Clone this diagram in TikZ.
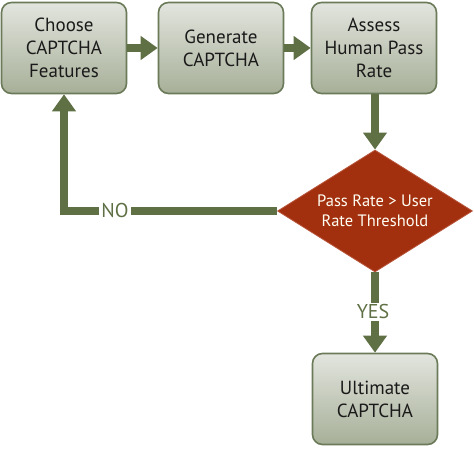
\documentclass[tikz,border=0pt]{standalone}
\usepackage{fontspec}
\setmainfont{PT Sans}
\usetikzlibrary{arrows.meta,shapes.geometric}
\definecolor{arrowgreen}{HTML}{5F7045}
\definecolor{boxborder}{HTML}{6B7A58}
\definecolor{boxtop}{HTML}{E2E5DE}
\definecolor{boxbot}{HTML}{A7AF98}
\definecolor{decfill}{HTML}{A2300F}
\definecolor{decborder}{HTML}{B8553A}
\definecolor{txt}{HTML}{1A1A1A}
\tikzset{
  stepbox/.style={draw=boxborder, line width=1.6pt, rounded corners=10pt,
    top color=boxtop, bottom color=boxbot, minimum width=125pt, minimum height=91pt,
    align=center, text=txt, font=\fontsize{19}{23}\selectfont, inner sep=0pt},
  decision/.style={diamond, draw=decborder, line width=0.8pt, fill=decfill,
    minimum width=195pt, minimum height=122pt, aspect=1.6, inner sep=0pt,
    align=center, text=white!95!yellow, font=\fontsize{16.5}{20}\selectfont},
  flow/.style={draw=arrowgreen, line width=7.5pt},
  flowarrow/.style={flow, -{Triangle[length=17pt,width=23pt]}},
  lbl/.style={text=arrowgreen, font=\fontsize{20}{22}\selectfont, inner sep=2pt}
}
\begin{document}
\begin{tikzpicture}[x=1pt,y=1pt]
\useasboundingbox (0,0) rectangle (474,449);
\node[stepbox] (b1) at (64,401) {Choose\\CAPTCHA\\Features};
\node[stepbox] (b2) at (221,401) {Generate\\CAPTCHA};
\node[stepbox] (b3) at (374,401) {Assess\\Human Pass\\Rate};
\node[decision] (d) at (375,238) {Pass Rate > User\\Rate Threshold};
\node[stepbox] (b4) at (375,50) {Ultimate\\CAPTCHA};
\node[lbl] (no) at (115,238) {NO};
\node[lbl] (yes) at (373,137) {YES};
\draw[flowarrow] (b1.east) -- (b2.west);
\draw[flowarrow] (b2.east) -- (b3.west);
\draw[flowarrow] (b3.south -| d.north) -- (d.north);
\draw[flow] (d.west) -- (no.east);
\draw[flowarrow] (no.west) -| (b1.south);
\draw[flow] (d.south) -- (d.south |- yes.north);
\draw[flowarrow] (d.south |- yes.south) -- (b4.north);
\end{tikzpicture}
\end{document}
